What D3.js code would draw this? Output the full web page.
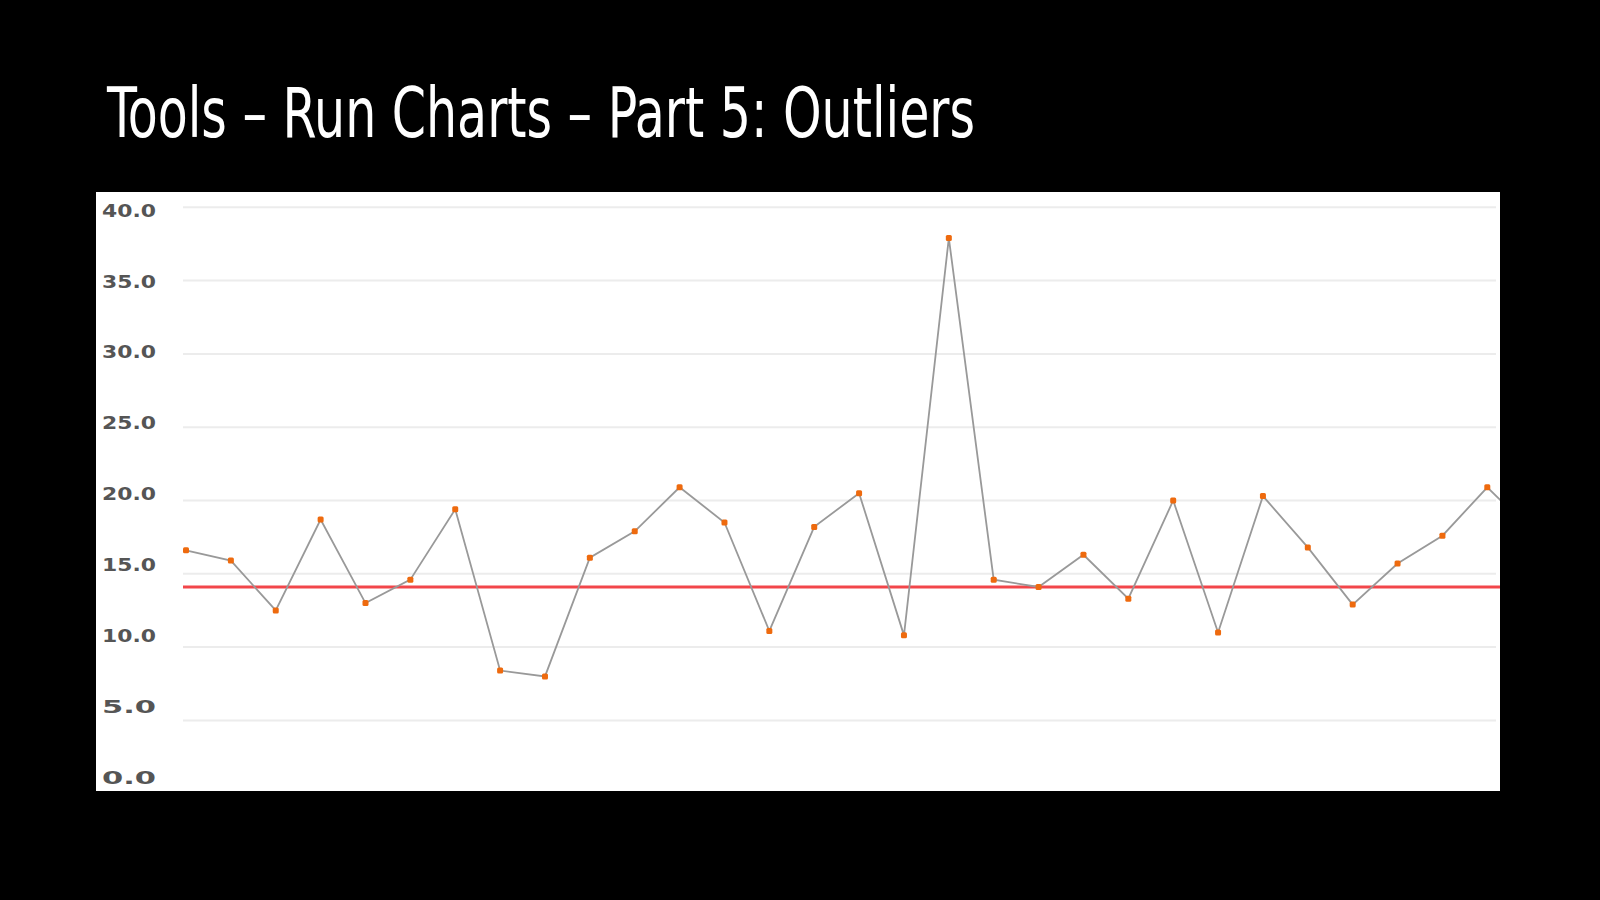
<!DOCTYPE html>
<html>
<head>
<meta charset="utf-8">
<script src="https://cdn.jsdelivr.net/npm/d3@7"></script>
<style>
    body { margin: 0; background: #000; }
    svg { display: block; }
</style>
</head>
<body>
<div id="chart"></div>
<script>

// Values (one per period, last one runs off the panel)
const periods = d3.range(1, 32);
const values = [16.6, 15.9, 12.5, 18.7, 13.0, 14.6, 19.4, 8.4, 8.0, 16.1,
                17.9, 20.9, 18.5, 11.1, 18.2, 20.5, 10.8, 37.9, 14.6, 14.1,
                16.3, 13.3, 20.0, 11.0, 20.3, 16.8, 12.9, 15.7, 17.6, 20.9, 17.9];
const centerLine = 14.1;
const yTicks = [0, 5, 10, 15, 20, 25, 30, 35, 40];
const title = "Tools \u2013 Run Charts \u2013 Part 5: Outliers";

const width = 1600, height = 900;

// White panel of the chart
const panel = {left: 96, top: 192, right: 1500, bottom: 791};
const plotLeft = 183;

const svg = d3.select("#chart")
    .append("svg")
    .attr("width", width)
    .attr("height", height);

svg.append("rect")
    .attr("width", width)
    .attr("height", height)
    .attr("fill", "#000");

// Title
svg.append("text")
    .attr("x", 107)
    .attr("y", 137)
    .attr("fill", "#fff")
    .attr("font-family", "'Liberation Sans Narrow', 'DejaVu Sans Condensed', 'Open Sans', sans-serif")
    .attr("font-size", 69)
    .attr("textLength", 868)
    .attr("lengthAdjust", "spacingAndGlyphs")
    .text(title);

svg.append("rect")
    .attr("x", panel.left)
    .attr("y", panel.top)
    .attr("width", panel.right - panel.left)
    .attr("height", panel.bottom - panel.top)
    .attr("fill", "#fff");

svg.append("clipPath")
    .attr("id", "clip")
    .append("rect")
    .attr("x", panel.left)
    .attr("y", panel.top)
    .attr("width", panel.right - panel.left)
    .attr("height", panel.bottom - panel.top);

// Scales
const x = d3.scaleLinear().domain([1, 30]).range([186, 1487.3]);
const y = d3.scaleLinear().domain([0, 40]).range([793.7, 207.3]);
// the tick labels sit a little off the grid in the original screenshot
const yLabel = d3.scaleLinear().domain([0, 40]).range([778, 210.7]);

// Gridlines
svg.append("g")
    .selectAll("line")
    .data(yTicks.filter(d => d > 0))
    .join("line")
    .attr("x1", plotLeft)
    .attr("x2", panel.right - 4)
    .attr("y1", d => y(d))
    .attr("y2", d => y(d))
    .attr("stroke", "#ececec")
    .attr("stroke-width", 2);

// Y axis labels
const yAxis = svg.append("g")
    .attr("transform", "translate(156,0)")
    .call(d3.axisLeft(yLabel).tickValues(yTicks).tickFormat(d3.format(".1f")).tickSize(0).tickPadding(0));

yAxis.select(".domain").remove();
yAxis.selectAll("text")
    .attr("fill", "#555")
    .attr("font-family", "'DejaVu Sans', Verdana, sans-serif")
    .attr("font-weight", "bold")
    .attr("font-size", 17)
    .attr("textLength", 54)
    .attr("lengthAdjust", "spacingAndGlyphs");

const plot = svg.append("g").attr("clip-path", "url(#clip)");

// Center line (median)
plot.append("line")
    .attr("x1", plotLeft)
    .attr("x2", panel.right)
    .attr("y1", y(centerLine))
    .attr("y2", y(centerLine))
    .attr("stroke", "#f2464a")
    .attr("stroke-width", 3);

// Run line
const line = d3.line()
    .x((d, i) => x(periods[i]))
    .y(d => y(d));

plot.append("path")
    .datum(values)
    .attr("fill", "none")
    .attr("stroke", "#999")
    .attr("stroke-width", 1.8)
    .attr("d", line);

// Points
plot.selectAll("rect.pt")
    .data(values)
    .join("rect")
    .attr("class", "pt")
    .attr("x", (d, i) => x(periods[i]) - 3)
    .attr("y", d => y(d) - 3)
    .attr("width", 6)
    .attr("height", 6)
    .attr("rx", 1.5)
    .attr("fill", "#ee6a0e");

</script>
</body>
</html>
